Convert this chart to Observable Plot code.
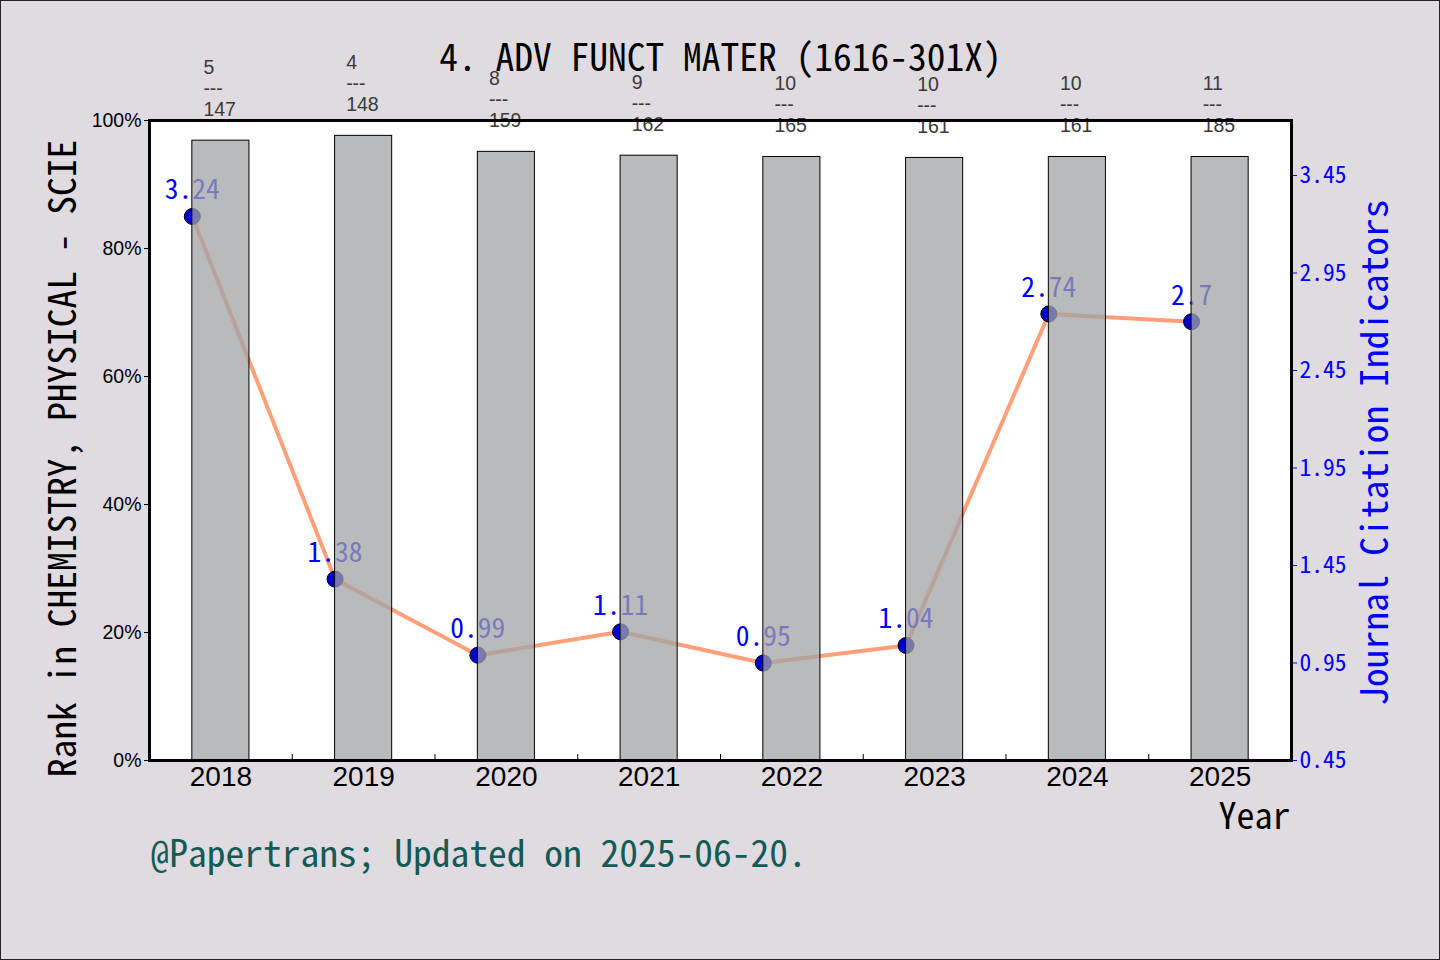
<!DOCTYPE html>
<html>
<head>
<meta charset="utf-8">
<script src="https://cdn.jsdelivr.net/npm/d3@7"></script>
<script src="https://cdn.jsdelivr.net/npm/@observablehq/plot@0.6"></script>
<style>
  html, body { margin: 0; padding: 0; background: #dfdbe1; }
  #chart svg { display: block; outline: 1px solid #222; outline-offset: -1px; }
</style>
</head>
<body>
<div id="chart"></div>
<script>
const years = ["2018", "2019", "2020", "2021", "2022", "2023", "2024", "2025"];
const ranks = [5, 4, 8, 9, 10, 10, 10, 11];
const totals = [147, 148, 159, 162, 165, 161, 161, 185];
const rankPercent = [96.85, 97.6, 95.1, 94.5, 94.3, 94.15, 94.3, 94.3];
const jciValues = [3.24, 1.38, 0.99, 1.11, 0.95, 1.04, 2.74, 2.7];
const jciTicks = [0.45, 0.95, 1.45, 1.95, 2.45, 2.95, 3.45];
const jciDomain = [0.45, 3.732];
const pctTicks = [0, 0.2, 0.4, 0.6, 0.8, 1];
const titleText = "4. ADV FUNCT MATER (1616-301X)";
const leftLabel = "Rank in CHEMISTRY, PHYSICAL - SCIE";
const rightLabel = "Journal Citation Indicators";
const xLabel = "Year";
const footerText = "@Papertrans; Updated on 2025-06-20.";

const W = 1440, H = 960;
const mL = 149, mR = 149, mT = 120, mB = 200;
const plotW = W - mL - mR;
const plotH = H - mT - mB;
const step = plotW / years.length;
const bw = step * 0.4;
const half = bw / 2;

const toY = v => (v - jciDomain[0]) / (jciDomain[1] - jciDomain[0]);
const fromY = y => jciDomain[0] + y * (jciDomain[1] - jciDomain[0]);

const data = years.map((y, i) => ({
  year: y,
  pct: rankPercent[i] / 100,
  jci: jciValues[i],
  jy: toY(jciValues[i]),
  rank: String(ranks[i]),
  total: String(totals[i])
}));

const mono = "'Noto Sans Mono CJK SC', 'Noto Sans Mono CJK JP', 'DejaVu Sans Mono', monospace";
const sans = "'Liberation Sans', Arial, sans-serif";
const annColor = "#3a3a3a";

const chart = Plot.plot({
  width: W,
  height: H,
  marginLeft: mL,
  marginRight: mR,
  marginTop: mT,
  marginBottom: mB,
  style: { background: "#dfdbe1", color: "black" },
  x: { type: "band", domain: years, paddingInner: 0.6, paddingOuter: 0.3, round: false, axis: null },
  y: { domain: [0, 1], axis: null },
  marks: [
    Plot.frame({ fill: "white" }),
    Plot.line(data, { x: "year", y: "jy", stroke: "#ffa07a", strokeWidth: 4, dx: -half }),
    Plot.dot(data, { x: "year", y: "jy", r: 8, fill: "#0000cd", stroke: "black", strokeWidth: 1, dx: -half }),
    Plot.text(data, { x: "year", y: "jy", text: d => String(d.jci), fill: "#0000ff", dx: -half, dy: -17, lineAnchor: "bottom", fontSize: 27.5, fontFamily: mono }),
    Plot.barY(data, { x: "year", y: "pct", fill: "#a1a2a5", fillOpacity: 0.745, stroke: "black", strokeWidth: 1 }),
    Plot.text(data, { x: "year", y: "pct", text: "rank", textAnchor: "start", dx: -17.5, dy: -67, lineAnchor: "bottom", fontSize: 19.5, fontFamily: sans, fill: annColor }),
    Plot.text(data, { x: "year", y: "pct", text: () => "---", textAnchor: "start", dx: -17.5, dy: -46, lineAnchor: "bottom", fontSize: 19.5, letterSpacing: 4.5, fontFamily: sans, fill: annColor }),
    Plot.text(data, { x: "year", y: "pct", text: "total", textAnchor: "start", dx: -17.5, dy: -25, lineAnchor: "bottom", fontSize: 19.5, fontFamily: sans, fill: annColor }),
    Plot.ruleX(years.slice(1), { x: d => d, dx: -step / 2, insetTop: plotH - 6, stroke: "black", strokeWidth: 1 }),
    Plot.axisX({ anchor: "bottom", tickSize: 0, tickPadding: 6, fontSize: 28, fontFamily: sans, label: null }),
    Plot.axisY({ anchor: "left", ticks: pctTicks, tickFormat: d3.format(".0%"), tickSize: 5, tickPadding: 3, fontSize: 19.5, fontFamily: sans, label: null }),
    Plot.axisY({ anchor: "right", ticks: jciTicks.map(toY), tickFormat: d => fromY(d).toFixed(2), tickSize: 5, tickPadding: 3, fontSize: 23.5, fontFamily: mono, stroke: "#0000ff", fill: "#0000ff", label: null }),
    Plot.frame({ stroke: "black", strokeWidth: 3 }),
    Plot.text([titleText], { frameAnchor: "top", textAnchor: "middle", lineAnchor: "middle", dy: -62, fontSize: 37.5, fontFamily: mono, fill: "black" }),
    Plot.text([leftLabel], { frameAnchor: "left", textAnchor: "middle", lineAnchor: "middle", rotate: -90, dx: -86, dy: 18, fontSize: 37.5, fontFamily: mono, fill: "black" }),
    Plot.text([rightLabel], { frameAnchor: "right", textAnchor: "middle", lineAnchor: "middle", rotate: -90, dx: 84, dy: 12, fontSize: 37.5, fontFamily: mono, fill: "#0000ff" }),
    Plot.text([xLabel], { frameAnchor: "bottom-right", textAnchor: "end", lineAnchor: "middle", dx: -1, dy: 56.5, fontSize: 36, fontFamily: mono, fill: "black" }),
    Plot.text([footerText], { frameAnchor: "bottom-left", textAnchor: "start", lineAnchor: "middle", dx: 1, dy: 94, fontSize: 37.5, fontFamily: mono, fill: "#135a55" })
  ]
});

document.getElementById("chart").appendChild(chart);
</script>
</body>
</html>
